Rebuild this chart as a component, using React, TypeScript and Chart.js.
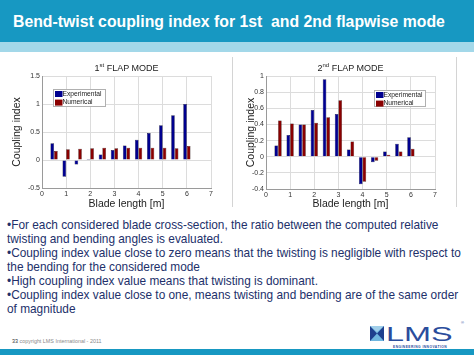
import React, { useEffect, useRef } from "react";
import { Chart, registerables } from "chart.js";

Chart.register(...registerables);

// ---- data ----
const bladePositions = [0.5, 1, 1.5, 2, 2.5, 3, 3.5, 4, 4.5, 5, 5.5, 6];
const flap1Experimental = [0.3, -0.3, -0.08, 0.02, 0.1, 0.18, 0.26, 0.36, 0.48, 0.62, 0.8, 1.0];
const flap1Numerical = [0.16, 0.19, 0.2, 0.21, 0.22, 0.21, 0.22, 0.22, 0.22, 0.22, 0.21, 0.25];
const flap2Experimental = [0.14, 0.27, 0.4, 0.58, 0.96, 0.53, 0.09, -0.34, -0.07, 0.065, 0.16, 0.24];
const flap2Numerical = [0.45, 0.41, 0.4, 0.42, 0.49, 0.7, 0.19, -0.31, -0.05, 0.025, 0.065, 0.1];
const xTicks = [0, 1, 2, 3, 4, 5, 6, 7];
const flap1YTicks = [-0.5, 0, 0.5, 1, 1.5];
const flap2YTicks = [-0.4, -0.2, 0, 0.2, 0.4, 0.6, 0.8, 1];
const seriesLabels = ["Experimental", "Numerical"];
const seriesColors = ["#00008f", "#8a0000"];

const FONT = '"Liberation Sans", Arial, Helvetica, sans-serif';

const insideLegend = {
  id: "insideLegend",
  afterDraw(chart: any, _args: any, opts: any) {
    const { ctx, chartArea } = chart;
    const w = opts.width;
    const h = opts.height;
    const x = opts.align === "right" ? chartArea.right - opts.dx - w : chartArea.left + opts.dx;
    const y = chartArea.top + opts.dy;
    ctx.save();
    ctx.fillStyle = "#ffffff";
    ctx.fillRect(x, y, w, h);
    ctx.strokeStyle = "#b0b0b0";
    ctx.lineWidth = 1;
    ctx.strokeRect(Math.round(x) + 0.5, Math.round(y) + 0.5, w - 1, h - 1);
    ctx.font = `6.7px ${FONT}`;
    ctx.textBaseline = "middle";
    ctx.textAlign = "left";
    chart.data.datasets.forEach((ds: any, i: number) => {
      const cy = y + 5 + i * 8.6;
      ctx.fillStyle = ds.backgroundColor;
      ctx.fillRect(x + 2, cy - 3, 7.5, 6);
      ctx.fillStyle = "#222";
      ctx.fillText(ds.label, x + 9.5, cy);
    });
    ctx.restore();
  },
};

type BarChartProps = {
  width: number;
  height: number;
  experimental: number[];
  numerical: number[];
  yTicks: number[];
  yAxisWidth: number;
  yTitlePad: number;
  xAxisHeight: number;
  padTop: number;
  padRight: number;
  legend: { align: string; dx: number; dy: number; width: number; height: number };
};

function BarChart(p: BarChartProps) {
  const ref = useRef<HTMLCanvasElement | null>(null);
  useEffect(() => {
    if (!ref.current) return;
    const yMin = p.yTicks[0];
    const yMax = p.yTicks[p.yTicks.length - 1];
    const chart = new Chart(ref.current, {
      type: "bar",
      data: {
        datasets: [
          {
            label: seriesLabels[0],
            data: bladePositions.map((x, i) => ({ x, y: p.experimental[i] })),
            backgroundColor: seriesColors[0],
            borderColor: "#000022",
            borderWidth: 0.5,
          },
          {
            label: seriesLabels[1],
            data: bladePositions.map((x, i) => ({ x, y: p.numerical[i] })),
            backgroundColor: seriesColors[1],
            borderColor: "#220000",
            borderWidth: 0.5,
          },
        ] as any,
      },
      plugins: [insideLegend as any],
      options: {
        animation: false,
        responsive: false,
        maintainAspectRatio: false,
        layout: { padding: { top: p.padTop, right: p.padRight, left: 0, bottom: 0 } },
        datasets: { bar: { categoryPercentage: 0.6, barPercentage: 1.0 } } as any,
        plugins: {
          legend: { display: false },
          tooltip: { enabled: false },
          insideLegend: p.legend,
        } as any,
        scales: {
          x: {
            type: "linear",
            min: 0,
            max: 7,
            offset: false,
            afterBuildTicks: (s: any) => {
              s.ticks = xTicks.map((v) => ({ value: v }));
            },
            afterFit: (s: any) => {
              s.height = p.xAxisHeight;
            },
            grid: { color: "#dcdcdc", drawTicks: false, offset: false } as any,
            border: { color: "#9a9a9a" },
            ticks: {
              color: "#333",
              padding: 2,
              maxRotation: 0,
              font: { family: FONT, size: 7 },
              callback: (v: any) => String(v),
            },
            title: {
              display: true,
              text: "Blade length [m]",
              color: "#222",
              font: { family: FONT, size: 10.5 },
              padding: { top: 0, bottom: 2 },
            },
          },
          y: {
            type: "linear",
            min: yMin,
            max: yMax,
            afterBuildTicks: (s: any) => {
              s.ticks = p.yTicks.map((v) => ({ value: v }));
            },
            afterFit: (s: any) => {
              s.width = p.yAxisWidth;
            },
            grid: { color: "#dcdcdc", drawTicks: false } as any,
            border: { color: "#9a9a9a" },
            ticks: {
              color: "#333",
              padding: 2,
              font: { family: FONT, size: 7 },
              callback: (v: any) => String(Number(Number(v).toFixed(2))),
            },
            title: {
              display: true,
              text: "Coupling index",
              color: "#222",
              font: { family: FONT, size: 10.5 },
              padding: { top: p.yTitlePad, bottom: 0 },
            },
          },
        },
      } as any,
    });
    return () => chart.destroy();
  }, []);
  return (
    <canvas
      ref={ref}
      width={p.width}
      height={p.height}
      style={{ width: p.width, height: p.height, display: "block" }}
    />
  );
}

const bodyLines = [
  "\u2022For each considered blade cross-section, the ratio between the computed relative",
  "twisting and bending angles is evaluated.",
  "\u2022Coupling index value close to zero means that the twisting is negligible with respect to",
  "the bending for the considered mode",
  "\u2022High coupling index value means that twisting is dominant.",
  "\u2022Coupling index value close to one, means twisting and bending are of the same order",
  "of magnitude",
];

export default function App() {
  const abs = (o: React.CSSProperties): React.CSSProperties => ({ position: "absolute", ...o });
  return (
    <div
      style={{
        position: "absolute",
        left: 0,
        top: 0,
        width: 474,
        height: 355,
        overflow: "hidden",
        background: "#ffffff",
        fontFamily: FONT,
      }}
    >
      <div style={abs({ left: 0, top: 0, width: 474, height: 42, background: "#1798c2" })} />
      <div style={abs({ left: 0, top: 42, width: 474, height: 10, background: "#a3d8e9" })} />
      <div
        style={abs({
          left: 13,
          top: 12,
          height: 20,
          lineHeight: "20px",
          fontSize: 15.8,
          fontWeight: "bold",
          color: "#ffffff",
          whiteSpace: "pre",
        })}
      >
        {"Bend-twist coupling index for 1st  and 2nd flapwise mode"}
      </div>

      {/* separators */}
      <div style={abs({ left: 232, top: 57, width: 1, height: 150, background: "#d4d4d4" })} />
      <div style={abs({ left: 456, top: 57, width: 1, height: 150, background: "#d4d4d4" })} />

      {/* left chart */}
      <div style={abs({ left: 0, top: 55 })}>
        <BarChart
          width={232}
          height={157}
          experimental={flap1Experimental}
          numerical={flap1Numerical}
          yTicks={flap1YTicks}
          yAxisWidth={42}
          yTitlePad={11}
          xAxisHeight={24}
          padTop={21}
          padRight={21}
          legend={{ align: "left", dx: 11, dy: 13, width: 53, height: 18 }}
        />
      </div>
      <div
        style={abs({
          left: 42,
          top: 58,
          width: 169,
          textAlign: "center",
          fontSize: 9,
          lineHeight: "14px",
          color: "#222",
        })}
      >
        1<sup style={{ fontSize: 6, verticalAlign: 4 }}>st</sup> FLAP MODE
      </div>

      {/* right chart */}
      <div style={abs({ left: 235, top: 55 })}>
        <BarChart
          width={221}
          height={157}
          experimental={flap2Experimental}
          numerical={flap2Numerical}
          yTicks={flap2YTicks}
          yAxisWidth={31}
          yTitlePad={10}
          xAxisHeight={23}
          padTop={21}
          padRight={21}
          legend={{ align: "right", dx: 9, dy: 14, width: 52, height: 17 }}
        />
      </div>
      <div
        style={abs({
          left: 266,
          top: 58,
          width: 169,
          textAlign: "center",
          fontSize: 9,
          lineHeight: "14px",
          color: "#222",
        })}
      >
        2<sup style={{ fontSize: 6, verticalAlign: 4 }}>nd</sup> FLAP MODE
      </div>

      {/* body text */}
      <div
        style={abs({
          left: 7,
          top: 218,
          fontSize: 11.85,
          lineHeight: "14.05px",
          color: "#22306a",
          whiteSpace: "pre",
        })}
      >
        {bodyLines.map((l, i) => (
          <div key={i}>{l}</div>
        ))}
      </div>

      {/* footer */}
      <div
        style={abs({
          left: 12,
          top: 337,
          fontSize: 5.4,
          lineHeight: "8px",
          color: "#8a8a8a",
          whiteSpace: "pre",
        })}
      >
        <span style={{ color: "#333" }}>33</span> copyright LMS International - 2011
      </div>

      {/* logo */}
      <svg style={abs({ left: 368, top: 319 })} width={100} height={30} viewBox="0 0 100 30">
        <rect x={2} y={7} width={14} height={15} fill="#6fb6df" />
        <polygon points="2,7 9,14.5 2,22" fill="#1e3f8e" />
        <polygon points="16,7 9,14.5 16,22" fill="#1e3f8e" />
        <polygon points="2,7 16,7 9,13" fill="#ffffff" opacity={0.35} />
        <text
          x={18}
          y={22}
          fontFamily={FONT}
          fontSize={20}
          fill="#2a4c9c"
          transform="translate(18 0) scale(1.62 1) translate(-18 0)"
        >
          LMS
        </text>
        <text x={93} y={5} fontFamily={FONT} fontSize={4} fill="#2a4c9c">
          ®
        </text>
        <text x={25} y={28.5} fontFamily={FONT} fontSize={3.3} fontWeight="bold" fill="#2a4c9c" letterSpacing={0.45}>
          ENGINEERING INNOVATION
        </text>
      </svg>

      <div style={abs({ left: 0, top: 349, width: 474, height: 6, background: "#1798c2" })} />
    </div>
  );
}
